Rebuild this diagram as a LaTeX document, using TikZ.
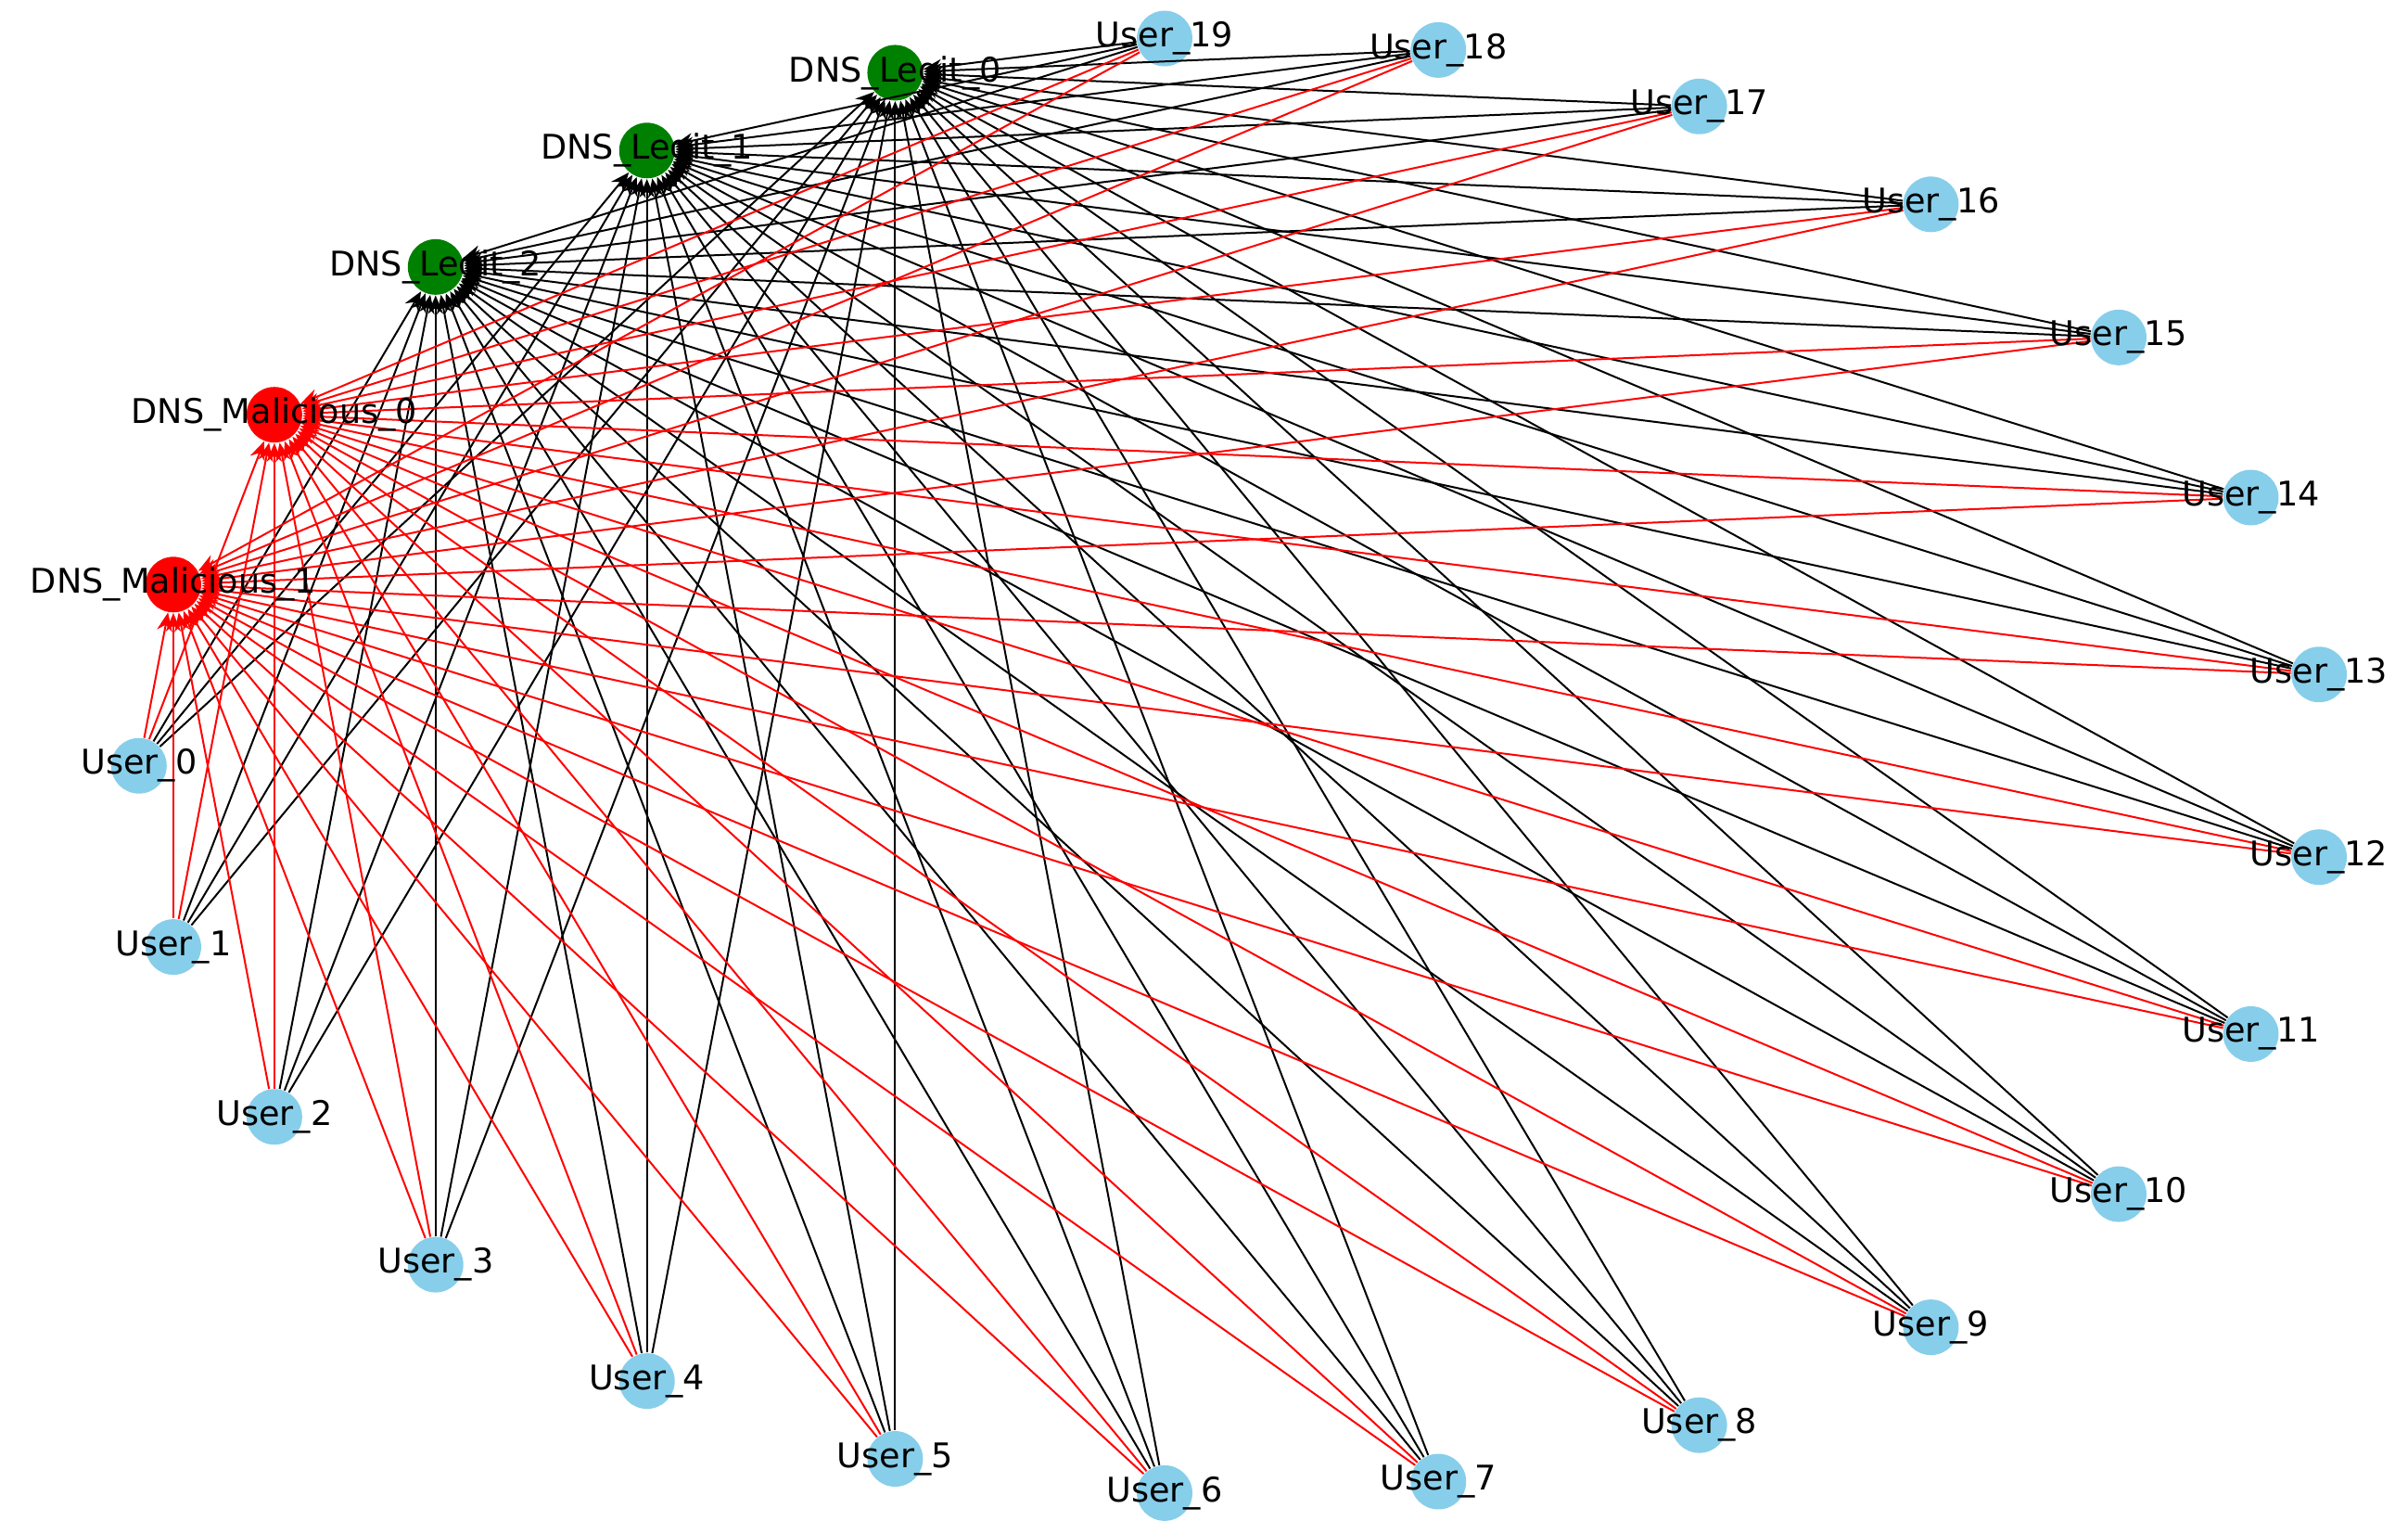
\documentclass[tikz,border=0pt]{standalone}
\usepackage{fontspec}
\setmainfont{DejaVu Sans}
\usetikzlibrary{arrows.meta}
\definecolor{skyb}{HTML}{87CEEB}
\definecolor{dgreen}{HTML}{008000}
\tikzset{
 vtx/.style={circle,minimum size=18pt,inner sep=0pt,draw=none},
 user/.style={vtx,fill=skyb},
 legit/.style={vtx,fill=dgreen},
 mal/.style={vtx,fill=red},
 lbl/.style={font=\fontsize{11}{13}\selectfont,inner sep=0pt},
 ledge/.style={black,line width=0.6pt,-{Stealth[length=6pt,width=5pt]}},
 medge/.style={red,line width=0.6pt,-{Stealth[length=6pt,width=5pt]}}
}
\begin{document}
\begin{tikzpicture}
\useasboundingbox (0,0) rectangle (780pt,496.5pt);
\foreach \i in {0,...,19}{
 \pgfmathsetmacro\a{180+14.4*\i}
 \node[user] (u\i) at ({399.5pt+354.5pt*cos(\a)},{248.5pt+236pt*sin(\a)}) {};
}
\foreach \n/\p/\s in {L0/20/legit,L1/21/legit,L2/22/legit,M0/23/mal,M1/24/mal}{
 \pgfmathsetmacro\a{180+14.4*\p}
 \node[\s] (\n) at ({399.5pt+354.5pt*cos(\a)},{248.5pt+236pt*sin(\a)}) {};
}
\foreach \i in {0,...,19}{
 \foreach \d in {L0,L1,L2} \draw[ledge] (u\i) -- (\d);
 \foreach \d in {M0,M1} \draw[medge] (u\i) -- (\d);
}
\foreach \i in {0,...,19}{ \node[lbl] at (u\i) {User\_\i}; }
\node[lbl] at (L0) {DNS\_Legit\_0};
\node[lbl] at (L1) {DNS\_Legit\_1};
\node[lbl] at (L2) {DNS\_Legit\_2};
\node[lbl] at (M0) {DNS\_Malicious\_0};
\node[lbl] at (M1) {DNS\_Malicious\_1};
\end{tikzpicture}
\end{document}
